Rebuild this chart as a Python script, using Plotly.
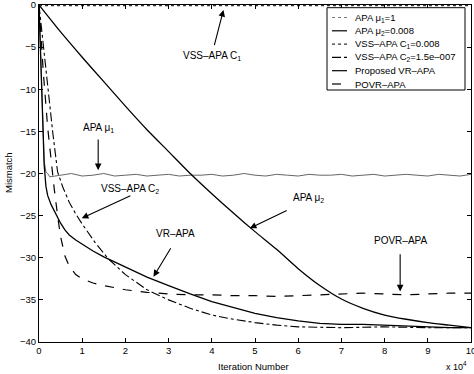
import plotly.graph_objects as go

# ---------------- data (x in units of 10^4 iterations) ----------------
apa_mu1_x = [0, 0.04, 0.08, 0.12, 0.16, 0.2, 0.25, 0.5, 0.75, 1.0, 1.25, 1.5, 1.75, 2.0, 2.25,
             2.5, 2.75, 3.0, 3.25, 3.5, 3.75, 4.0, 4.25, 4.5, 4.75, 5.0, 5.25, 5.5, 5.75, 6.0,
             6.25, 6.5, 6.75, 7.0, 7.25, 7.5, 7.75, 8.0, 8.25, 8.5, 8.75, 9.0, 9.25, 9.5, 9.75, 10.0]
apa_mu1_y = [0, -6.5, -13, -18.5, -19.8, -20.0, -20.4, -20.2, -20.0, -20.3, -20.2, -20.0, -20.3,
             -20.2, -20.1, -20.3, -20.2, -20.1, -20.3, -20.2, -20.2, -20.1, -20.3, -20.2, -20.0,
             -20.2, -20.3, -20.1, -20.2, -20.3, -20.1, -20.2, -20.2, -20.1, -20.3, -20.2, -20.1,
             -20.3, -20.2, -20.1, -20.2, -20.3, -20.1, -20.2, -20.3, -20.1]

apa_mu2_x = [0, 0.5, 1, 1.5, 2, 2.5, 3, 3.5, 4, 4.5, 5, 5.5, 6, 6.5, 7, 7.5, 8, 8.5, 9, 9.5, 10]
apa_mu2_y = [0, -3.2, -6.2, -9.1, -12.0, -14.8, -17.4, -20.0, -22.4, -24.7, -26.9, -29.0,
             -31.3, -33.3, -34.9, -36.0, -36.8, -37.3, -37.7, -38.0, -38.3]

vss_c1_x = [0, 10]
vss_c1_y = [-0.08, -0.08]

vss_c2_x = [0, 0.1, 0.2, 0.32, 0.43, 0.55, 0.7, 0.85, 1.0, 1.3, 1.6, 2.0, 2.5, 3.0, 3.5, 4.0,
            4.5, 5.0, 5.5, 6.0, 7.0, 8.0, 9.0, 10.0]
vss_c2_y = [0, -5, -10, -15.2, -19.8, -21.6, -23.4, -24.8, -26.0, -28.2, -30.1, -32.0, -33.8,
            -35.0, -36.0, -36.8, -37.3, -37.7, -38.0, -38.2, -38.3, -38.2, -38.3, -38.3]

vr_x = [0, 0.04, 0.08, 0.12, 0.16, 0.2, 0.28, 0.39, 0.5, 0.6, 0.7, 0.85, 1.0, 1.25, 1.5, 2.0,
        2.5, 3.0, 3.5, 4.0, 4.5, 5.0, 5.5, 6.0, 6.5, 7.0, 7.5, 8.0, 8.5, 9.0, 9.5, 10.0]
vr_y = [0, -6.5, -13, -19, -21.5, -22.6, -23.7, -24.8, -25.9, -26.7, -27.3, -27.9, -28.4,
        -29.2, -29.9, -31.1, -32.3, -33.3, -34.3, -35.2, -35.9, -36.6, -37.1, -37.5, -37.8,
        -37.9, -37.9, -38.0, -38.1, -38.2, -38.3, -38.3]

povr_x = [0, 0.1, 0.2, 0.3, 0.35, 0.43, 0.5, 0.6, 0.7, 0.85, 1.0, 1.25, 1.5, 2.0, 2.5, 3.0,
          3.5, 4.0, 4.5, 5.0, 5.5, 6.0, 6.5, 7.0, 7.5, 8.0, 8.5, 9.0, 9.5, 10.0]
povr_y = [0, -8, -14.5, -19.5, -21.7, -25.0, -27.5, -29.8, -31.0, -32.0, -32.5, -33.0, -33.3,
          -33.8, -34.1, -34.3, -34.4, -34.4, -34.5, -34.5, -34.6, -34.5, -34.4, -34.3, -34.2,
          -34.3, -34.4, -34.3, -34.2, -34.2]

x_ticks = list(range(0, 11))
y_ticks = list(range(-40, 1, 5))

legend_labels = ["APA μ<sub>1</sub>=1", "APA μ<sub>2</sub>=0.008", "VSS–APA C<sub>1</sub>=0.008",
                 "VSS–APA C<sub>2</sub>=1.5e–007", "Proposed VR–APA", "POVR–APA"]
legend_dashes = ["dot", "solid", "dot", "dashdot", "solid", "dash"]
legend_colors = ["#777777", "black", "#333333", "black", "black", "black"]

curve_labels = ["VSS–APA C<sub>1</sub>", "APA μ<sub>1</sub>", "VSS–APA C<sub>2</sub>",
                "APA μ<sub>2</sub>", "VR–APA", "POVR–APA"]

FONT = "Liberation Sans, Arial, Helvetica, sans-serif"

# plot area in pixels (for placing decorations)
L, R, T, B = 39, 471, 5, 342
W, H = 474, 374


def px(xp):
    return (xp - L) / (R - L)


def py(yp):
    return (B - yp) / (B - T)


fig = go.Figure()
fig.add_trace(go.Scatter(x=apa_mu1_x, y=apa_mu1_y, mode="lines", name=legend_labels[0],
                         line=dict(color="#555555", width=0.9)))
fig.add_trace(go.Scatter(x=apa_mu2_x, y=apa_mu2_y, mode="lines", name=legend_labels[1],
                         line=dict(color="black", width=1.3, shape="spline", smoothing=0.6)))
fig.add_trace(go.Scatter(x=vss_c1_x, y=vss_c1_y, mode="lines", name=legend_labels[2],
                         line=dict(color="#333333", width=1.2, dash="dot")))
fig.add_trace(go.Scatter(x=vss_c2_x, y=vss_c2_y, mode="lines", name=legend_labels[3],
                         line=dict(color="black", width=1.1, dash="dashdot")))
fig.add_trace(go.Scatter(x=vr_x, y=vr_y, mode="lines", name=legend_labels[4],
                         line=dict(color="black", width=1.3)))
fig.add_trace(go.Scatter(x=povr_x, y=povr_y, mode="lines", name=legend_labels[5],
                         line=dict(color="black", width=1.2, dash="dash")))

ann_font = dict(family=FONT, size=10, color="black")
text_pos = [(4.0, -6.1), (1.37, -14.6), (2.1, -21.8), (6.23, -22.9), (3.17, -27.1), (8.36, -28.0)]
for t, (x, y) in zip(curve_labels, text_pos):
    fig.add_annotation(x=x, y=y, text=t, showarrow=False, font=ann_font,
                       xanchor="center", yanchor="middle")

arrows = [
    (4.27, -0.6, 4.05, -4.95),
    (1.37, -19.6, 1.37, -15.8),
    (0.99, -25.3, 2.15, -22.55),
    (4.88, -26.5, 5.77, -24.3),
    (2.65, -32.25, 3.07, -28.7),
    (8.36, -34.0, 8.36, -29.4),
]
for hx, hy, tx, ty in arrows:
    fig.add_annotation(x=hx, y=hy, ax=tx, ay=ty, xref="x", yref="y", axref="x", ayref="y",
                       text="", showarrow=True, arrowhead=2, arrowsize=1.2, arrowwidth=1.1,
                       arrowcolor="black", standoff=0, startstandoff=0)

# axis titles and exponent
fig.add_annotation(x=px(253), y=py(366), xref="paper", yref="paper", text="Iteration Number",
                   xanchor="center", yanchor="middle", showarrow=False,
                   font=dict(family=FONT, size=9.5, color="black"))
fig.add_annotation(x=px(8), y=py(173), xref="paper", yref="paper", text="Mismatch",
                   xanchor="center", yanchor="middle", textangle=-90, showarrow=False,
                   font=dict(family=FONT, size=9.5, color="black"))
fig.add_annotation(x=px(456), y=py(366), xref="paper", yref="paper", text="x 10<sup>4</sup>",
                   xanchor="center", yanchor="middle", showarrow=False,
                   font=dict(family=FONT, size=9, color="black"))

# manual legend (compact, as in the reference)
box_l, box_r, box_t, box_b = 327, 465, 7.7, 90
fig.add_shape(type="rect", xref="paper", yref="paper", x0=px(box_l), x1=px(box_r),
              y0=py(box_b), y1=py(box_t), line=dict(color="black", width=1),
              fillcolor="white", layer="above")
for i, (lab, dash, col) in enumerate(zip(legend_labels, legend_dashes, legend_colors)):
    yc = 17.5 + 13.3 * i
    fig.add_shape(type="line", xref="paper", yref="paper", x0=px(332), x1=px(347),
                  y0=py(yc), y1=py(yc), line=dict(color=col, width=1.2, dash=dash),
                  layer="above")
    fig.add_annotation(x=px(353), y=py(yc), xref="paper", yref="paper", text=lab,
                       xanchor="left", yanchor="middle", showarrow=False,
                       font=dict(family=FONT, size=9.5, color="black"))

axis_common = dict(showgrid=False, zeroline=False, showline=True, linecolor="black",
                   linewidth=1, mirror="ticks", ticks="inside", ticklen=4, tickcolor="black",
                   tickfont=dict(family=FONT, size=9.5, color="black"), automargin=False,
                   ticklabeloverflow="allow")

fig.update_xaxes(range=[0, 10], tickvals=x_ticks, ticktext=[str(v) for v in x_ticks], **axis_common)
fig.update_yaxes(range=[-40, 0], tickvals=y_ticks,
                 ticktext=[str(v).replace("-", "−") for v in y_ticks], **axis_common)

fig.update_layout(
    width=W, height=H,
    margin=dict(l=L, r=W - R, t=T, b=H - B),
    paper_bgcolor="white", plot_bgcolor="white",
    font=dict(family=FONT, size=10, color="black"),
    showlegend=False,
)

fig.write_html("out.html", config={"displayModeBar": False},
               post_script="document.body.style.margin='0';document.body.style.overflow='hidden';")
